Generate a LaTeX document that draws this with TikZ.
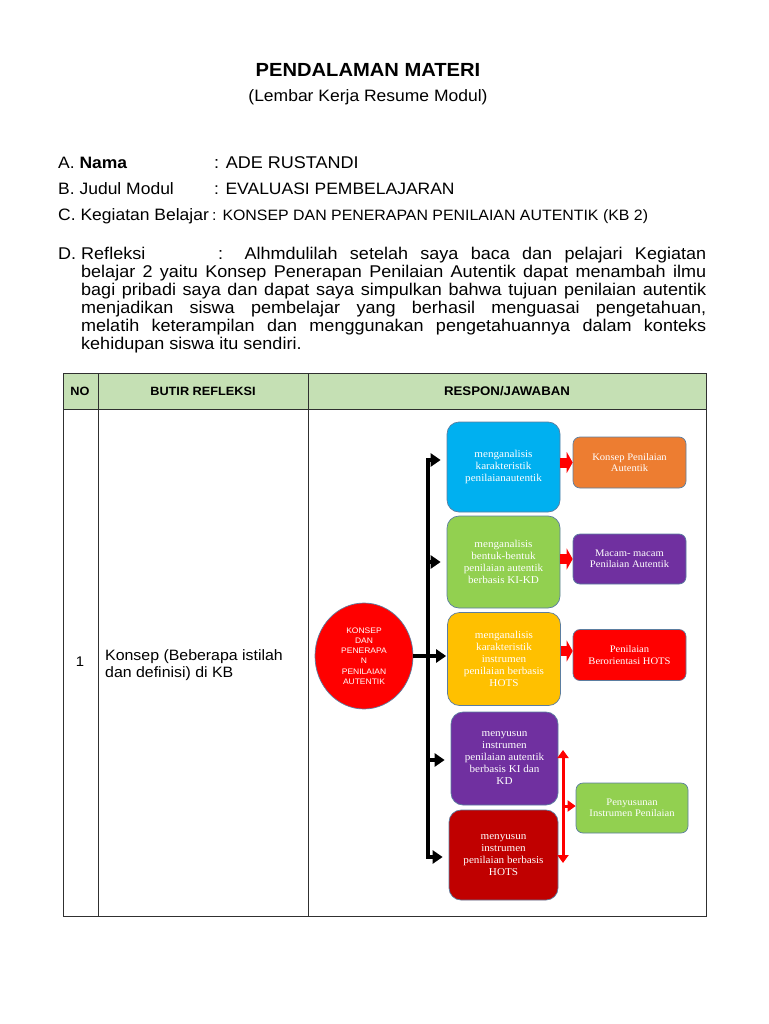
\documentclass[tikz,border=0pt]{standalone}
\usepackage{fontspec}
\setmainfont{Liberation Sans}[FakeStretch=1.06]
\newfontfamily\boxfont{Liberation Serif}[FakeStretch=1.06]
\usetikzlibrary{shapes.geometric,arrows.meta,calc}
\definecolor{hdr}{HTML}{C5E0B4}
\definecolor{boxedge}{HTML}{5B7DA0}
\definecolor{cblue}{HTML}{00B0F0}
\definecolor{cgreen}{HTML}{92D050}
\definecolor{cyellow}{HTML}{FFC000}
\definecolor{cpurple}{HTML}{7030A0}
\definecolor{cdarkred}{HTML}{C00000}
\definecolor{corange}{HTML}{ED7D31}
\definecolor{cred}{HTML}{FF0000}
\definecolor{tline}{HTML}{303030}
\begin{document}
\begin{tikzpicture}[x=1pt,y=-1pt,
  lbox/.style={draw=boxedge, line width=0.7pt, rounded corners=12pt, text=white, align=center, inner sep=0pt, font=\boxfont\fontsize{10.5}{12}\selectfont, minimum width=113pt},
  rbox/.style={draw=boxedge, line width=0.7pt, rounded corners=7pt, text=white, align=center, inner sep=0pt, font=\boxfont\fontsize{10}{11.5}\selectfont, minimum width=113pt, minimum height=51pt},
  blk/.style={line width=3.5pt, -{Triangle[length=10pt,width=13pt]}},
  redblk/.style={cred, line width=10pt, -{Triangle[length=6pt,width=21pt]}},
  redln/.style={cred, line width=3pt},
  redtip/.tip={Triangle[length=8pt,width=11pt]},
  txt/.style={inner sep=0pt, anchor=base west},
  tl/.style={draw=tline, line width=1pt}
]
\useasboundingbox (0,0) rectangle (768,1024);
\fill[white] (0,0) rectangle (768,1024);

% heading
\node[inner sep=0pt, font=\bfseries\fontsize{19}{22}\selectfont] (title) at (368,70) {PENDALAMAN MATERI};
\node[inner sep=0pt, font=\fontsize{16.5}{19}\selectfont] (subtitle) at (368,97) {(Lembar Kerja Resume Modul)};

% identity lines
\node[txt, font=\fontsize{16.5}{19}\selectfont] (la) at (58,169) {A. \textbf{Nama}};
\node[txt, font=\fontsize{17}{19}\selectfont] (va) at (214,169) {: ADE RUSTANDI};
\node[txt, font=\fontsize{16.5}{19}\selectfont] (lb) at (58,195) {B. Judul Modul};
\node[txt, font=\fontsize{16.5}{19}\selectfont] (vb) at (214,195) {: EVALUASI PEMBELAJARAN};
\node[txt, font=\fontsize{16.5}{19}\selectfont] (lc) at (58,221) {C. Kegiatan Belajar};
\node[txt, font=\fontsize{15}{19}\selectfont] (vc) at (212,221) {: KONSEP DAN PENERAPAN PENILAIAN AUTENTIK (KB 2)};

% reflection paragraph
\node[txt, font=\fontsize{17}{18}\selectfont] (refl1) at (58,259)
{\makebox[648pt][s]{\makebox[160pt][l]{D. Refleksi}: Alhmdulilah setelah saya baca dan pelajari Kegiatan}};
\node[inner sep=0pt, anchor=base west, text width=625pt, align=justify, font=\fontsize{17}{18}\selectfont] (refl2) at (81,277)
{belajar 2 yaitu Konsep Penerapan Penilaian Autentik dapat menambah ilmu\linebreak
bagi pribadi saya dan dapat saya simpulkan bahwa tujuan penilaian autentik\linebreak
menjadikan siswa pembelajar yang berhasil menguasai pengetahuan,\linebreak
melatih keterampilan dan menggunakan pengetahuannya dalam konteks\linebreak
kehidupan siswa itu sendiri.};

% table
\fill[hdr] (63,373) rectangle (706,409);
\draw[tl] (63,373) rectangle (706,916);
\draw[tl] (63,409) -- (706,409);
\draw[tl] (98,373) -- (98,916);
\draw[tl] (308,373) -- (308,916);
\node[inner sep=0pt, font=\bfseries\fontsize{12}{14}\selectfont] (hno) at (80,391) {NO};
\node[inner sep=0pt, font=\bfseries\fontsize{12}{14}\selectfont] (hbutir) at (203,391) {BUTIR REFLEKSI};
\node[inner sep=0pt, font=\bfseries\fontsize{12.5}{14}\selectfont] (hresp) at (507,391) {RESPON/JAWABAN};
\node[inner sep=0pt, font=\fontsize{14}{16}\selectfont] (no1) at (80,662) {1};
\node[inner sep=0pt, anchor=base west, align=left, font=\fontsize{15}{16.5}\selectfont] (butir1) at (105,677) {Konsep (Beberapa istilah\\dan definisi) di KB};

% diagram
\node[ellipse, draw=boxedge, line width=0.7pt, fill=cred, minimum width=98pt, minimum height=106pt, inner sep=0pt, text=white, align=center, font=\fontsize{8}{10.2}\selectfont] (ell) at (364,656)
  {KONSEP\\DAN\\PENERAPA\\N\\PENILAIAN\\AUTENTIK};

\node[lbox, fill=cblue, minimum height=90pt] (b1) at (503.5,467) {menganalisis\\karakteristik\\penilaianautentik};
\node[lbox, fill=cgreen, minimum height=92pt] (b2) at (503.5,562) {menganalisis\\bentuk-bentuk\\penilaian autentik\\berbasis KI-KD};
\node[lbox, fill=cyellow, minimum height=93pt] (b3) at (504,659) {menganalisis\\karakteristik\\instrumen\\penilaian berbasis\\HOTS};
\node[lbox, fill=cpurple, minimum width=107pt, minimum height=93pt] (b4) at (504.5,758.5) {menyusun\\instrumen\\penilaian autentik\\berbasis KI dan\\KD};
\node[lbox, fill=cdarkred, minimum width=109pt, minimum height=90pt] (b5) at (503.5,855) {menyusun\\instrumen\\penilaian berbasis\\HOTS};

\node[rbox, fill=corange] (r1) at (629.5,462.5) {Konsep Penilaian\\Autentik};
\node[rbox, fill=cpurple, minimum height=50pt] (r2) at (629.5,559) {Macam- macam\\Penilaian Autentik};
\node[rbox, fill=cred] (r3) at (629.5,655) {Penilaian\\Berorientasi HOTS};
\node[rbox, fill=cgreen, minimum width=112pt, minimum height=50pt] (r4) at (632,808) {Penyusunan\\Instrumen Penilaian};

% black spine and arrows
\coordinate (s1) at (428,460);
\coordinate (s2) at (428,562);
\coordinate (s4) at (428,760);
\coordinate (s5) at (428,857);
\draw[line width=3.5pt] (s1) -- (s5);
\draw[blk, shorten >=6pt] ($(s1)+(-1.75,0)$) -- (s1 -| b1.west);
\draw[blk, shorten >=6pt] (s2) -- (s2 -| b2.west);
\draw[blk, shorten >=6pt] (s4) -- (s4 -| b4.west);
\draw[blk, shorten >=6pt] ($(s5)+(-1.75,0)$) -- (s5 -| b5.west);
\draw[blk, shorten >=1pt] (ell.east) -- (ell.east -| b3.west);

% red block arrows
\draw[redblk] (r1.west -| b1.east) -- (r1.west);
\draw[redblk] (r2.west -| b2.east) -- (r2.west);
\draw[redblk] ($(r3.west -| b3.east)+(0,-4)$) -- ($(r3.west)+(0,-4)$);

% red bracket
\coordinate (rb1) at (563,750);
\coordinate (rb2) at (563,863);
\coordinate (rbm) at (563,806);
\draw[redln, {redtip}-{redtip}] (rb1) -- (rb2);
\draw[redln, -{redtip}] (rbm) -- (rbm -| r4.west);
\end{tikzpicture}
\end{document}
